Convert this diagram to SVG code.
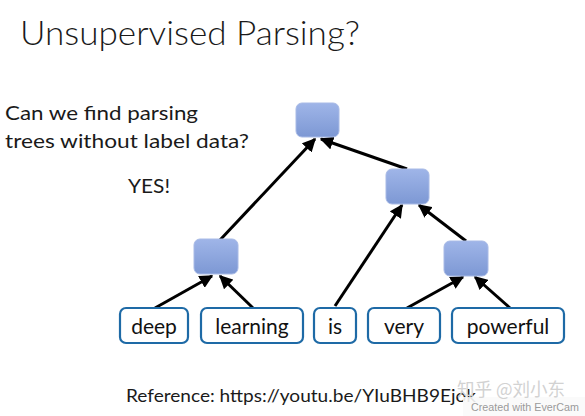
<svg xmlns="http://www.w3.org/2000/svg" width="585" height="416" viewBox="0 0 585 416">
<defs>
<linearGradient id="ng" x1="0" y1="0" x2="0" y2="1">
<stop offset="0" stop-color="#9fb5e8"/>
<stop offset="1" stop-color="#7d98d4"/>
</linearGradient>
<marker id="ah" viewBox="0 0 10 10" refX="9" refY="5" markerWidth="4.5" markerHeight="4.5" orient="auto" markerUnits="strokeWidth">
<path d="M0,0 L10,5 L0,10 z" fill="#000"/>
</marker>
</defs>
<style>
.t{font-family:Lato,"Liberation Sans",sans-serif;fill:#1a1a1a}
.node{fill:url(#ng);stroke:#a8bae6;stroke-width:1}
.word{fill:#fff;stroke:#1e6aa6;stroke-width:2.2}
.wt{font-family:Lato,"Liberation Sans",sans-serif;font-size:21px;fill:#111;text-anchor:middle}
.edge{stroke:#000;stroke-width:3;fill:none;marker-end:url(#ah)}
</style>
<rect width="585" height="416" fill="#fff"/>
<text class="t" x="20" y="45" font-size="33" font-weight="300" textLength="340" lengthAdjust="spacingAndGlyphs">Unsupervised Parsing?</text>
<text class="t" x="5" y="120" font-size="20" textLength="193" lengthAdjust="spacingAndGlyphs">Can we find parsing</text>
<text class="t" x="5" y="148" font-size="20" textLength="244" lengthAdjust="spacingAndGlyphs">trees without label data?</text>
<text class="t" x="128" y="193" font-size="20" textLength="42" lengthAdjust="spacingAndGlyphs">YES!</text>
<g id="connectors">
<line class="edge" x1="155" y1="308" x2="212" y2="276"/>
<line class="edge" x1="253" y1="308" x2="220" y2="276"/>
<line class="edge" x1="220" y1="240" x2="315" y2="139"/>
<line class="edge" x1="407" y1="169" x2="321" y2="139"/>
<line class="edge" x1="335" y1="306" x2="402" y2="205"/>
<line class="edge" x1="466" y1="241" x2="419" y2="205"/>
<line class="edge" x1="407" y1="308" x2="463" y2="277"/>
<line class="edge" x1="510" y1="308" x2="475" y2="277"/>
</g>
<g id="n-root"><rect class="node" x="296" y="103" width="43" height="34" rx="6"/></g>
<g id="n-mid"><rect class="node" x="386" y="169" width="43" height="35" rx="6"/></g>
<g id="n-left"><rect class="node" x="194" y="239" width="44" height="35" rx="6"/></g>
<g id="n-right"><rect class="node" x="444" y="241" width="44" height="35" rx="6"/></g>
<g id="w-deep"><rect class="word" x="120" y="308" width="68" height="35" rx="6"/><text class="wt" x="154" y="334">deep</text></g>
<g id="w-learning"><rect class="word" x="201" y="308" width="102" height="35" rx="6"/><text class="wt" x="252" y="334">learning</text></g>
<g id="w-is"><rect class="word" x="314" y="308" width="42" height="35" rx="6"/><text class="wt" x="335" y="334">is</text></g>
<g id="w-very"><rect class="word" x="368" y="308" width="72" height="35" rx="6"/><text class="wt" x="404" y="334">very</text></g>
<g id="w-powerful"><rect class="word" x="452" y="308" width="112" height="35" rx="6"/><text class="wt" x="508" y="334">powerful</text></g>
<text class="t" x="126" y="402" font-size="17" textLength="350" lengthAdjust="spacingAndGlyphs">Reference: https://youtu.be/YIuBHB9Ejok</text>
<rect x="463" y="397" width="122" height="19" fill="#fafafa" opacity="0.9"/>
<text x="457" y="396" font-family="'Noto Sans CJK SC',sans-serif" font-size="18" fill="#d2d2d2" textLength="108" lengthAdjust="spacingAndGlyphs">知乎 @刘小东</text>
<text x="471" y="411" font-family="'Liberation Sans',sans-serif" font-size="11" fill="#9a9a9a" textLength="108" lengthAdjust="spacingAndGlyphs">Created with EverCam</text>
</svg>
